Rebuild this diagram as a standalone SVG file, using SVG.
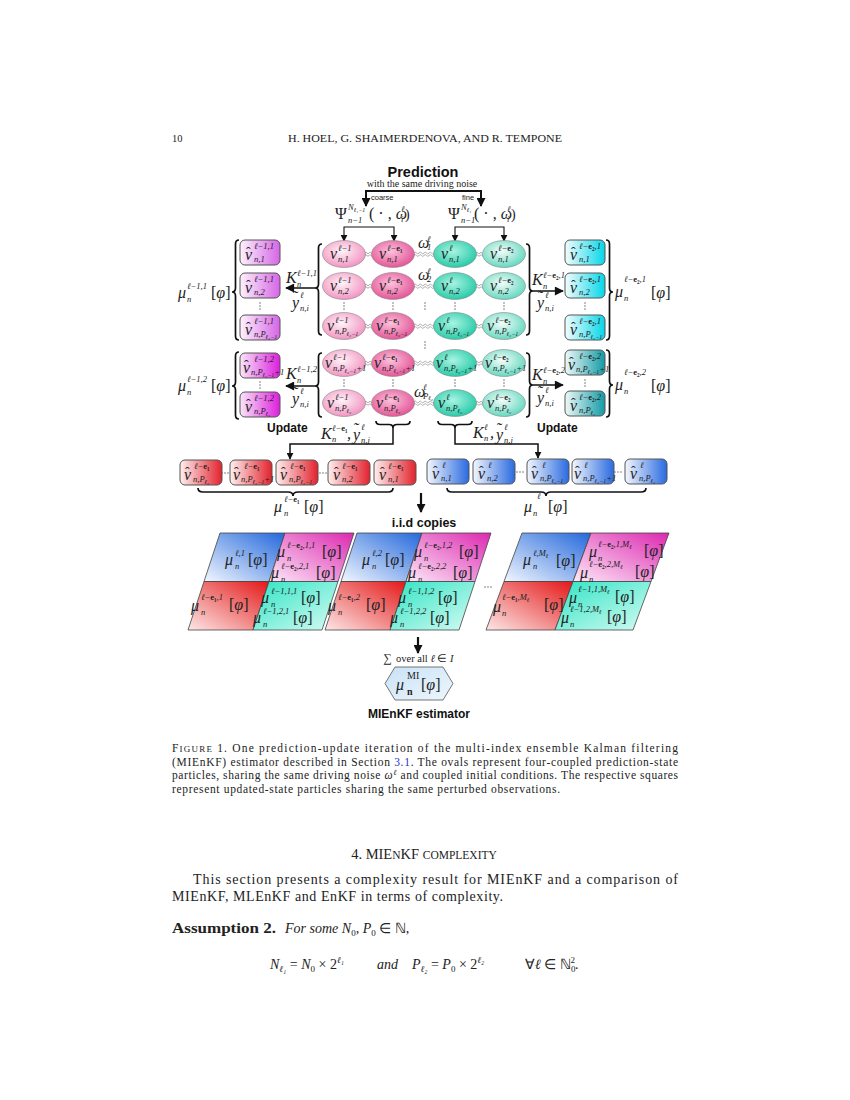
<svg xmlns="http://www.w3.org/2000/svg" width="850" height="1100" viewBox="0 0 850 1100">
<style>
.v{font-family:"Liberation Serif",serif;font-style:italic;font-size:16px;fill:#222}
.s{font-family:"Liberation Serif",serif;font-style:italic;font-size:8.5px;fill:#222}
.t{font-size:6px}
.b{font-weight:bold;font-style:normal}
.u{font-style:normal}
.rm{font-family:"Liberation Serif",serif;fill:#222}
.sans{font-family:"Liberation Sans",Arial,sans-serif;font-weight:bold;fill:#111}
.bx{stroke:#555;stroke-width:1}
.ov{stroke:#888;stroke-width:0.6}
.br{fill:none;stroke:#111;stroke-width:1.7}
.ln{fill:none;stroke:#111;stroke-width:1.5}
.pg{stroke:#444;stroke-width:0.8}
.h{font-family:"Liberation Serif",serif;font-size:14px;fill:#222}
</style>
<defs>
<marker id="ah" viewBox="0 0 10 10" refX="9" refY="5" markerWidth="7" markerHeight="7" markerUnits="userSpaceOnUse" orient="auto"><path d="M0,0 L10,5 L0,10 z" fill="#111"/></marker>
<marker id="ahb" viewBox="0 0 10 10" refX="9" refY="5" markerWidth="10" markerHeight="9" markerUnits="userSpaceOnUse" orient="auto"><path d="M0,0 L10,5 L0,10 z" fill="#111"/></marker>
<radialGradient id="go1" cx="0.45" cy="0.4" r="0.65"><stop offset="0" stop-color="#fff3f8"/><stop offset="1" stop-color="#f08dbd"/></radialGradient>
<radialGradient id="go2" cx="0.45" cy="0.4" r="0.65"><stop offset="0" stop-color="#fbc2dc"/><stop offset="1" stop-color="#e24d92"/></radialGradient>
<radialGradient id="go3" cx="0.45" cy="0.4" r="0.65"><stop offset="0" stop-color="#a8f4e2"/><stop offset="1" stop-color="#1fc7a4"/></radialGradient>
<radialGradient id="go4" cx="0.45" cy="0.4" r="0.65"><stop offset="0" stop-color="#f4fdfa"/><stop offset="1" stop-color="#5ad5bb"/></radialGradient>
<linearGradient id="gm1"><stop offset="0" stop-color="#fdf2fd"/><stop offset="1" stop-color="#d665e6"/></linearGradient>
<linearGradient id="gm2"><stop offset="0" stop-color="#f9e6f9"/><stop offset="1" stop-color="#dd1fdc"/></linearGradient>
<linearGradient id="gc1"><stop offset="0" stop-color="#f2fdfe"/><stop offset="1" stop-color="#05d6e8"/></linearGradient>
<linearGradient id="gc2"><stop offset="0" stop-color="#eef9f9"/><stop offset="1" stop-color="#139aa5"/></linearGradient>
<linearGradient id="gr"><stop offset="0" stop-color="#fff0f0"/><stop offset="1" stop-color="#e2222d"/></linearGradient>
<linearGradient id="gb"><stop offset="0" stop-color="#f3f7fe"/><stop offset="1" stop-color="#2a6ae0"/></linearGradient>
<linearGradient id="pb" x1="0" y1="1" x2="1" y2="0"><stop offset="0" stop-color="#f2f7fe"/><stop offset="1" stop-color="#2468dc"/></linearGradient>
<linearGradient id="pp" x1="0" y1="1" x2="1" y2="0"><stop offset="0" stop-color="#fde9f8"/><stop offset="1" stop-color="#dd28b0"/></linearGradient>
<linearGradient id="pr" x1="0" y1="1" x2="1" y2="0"><stop offset="0" stop-color="#fde7e7"/><stop offset="1" stop-color="#e41818"/></linearGradient>
<linearGradient id="pt" x1="0" y1="0" x2="1" y2="1"><stop offset="0" stop-color="#2ee4c4"/><stop offset="1" stop-color="#d6fbf3"/></linearGradient>
<linearGradient id="gh" x1="0" y1="0" x2="1" y2="1"><stop offset="0" stop-color="#c8e2f6"/><stop offset="1" stop-color="#eef6fc"/></linearGradient>
<path id="wl" d="M0,0 q1.25,-1.8 2.5,0 t2.5,0 t2.5,0 t2.5,0 t2.5,0 t2.5,0 t2.5,0 t2.5,0" fill="none" stroke="#999" stroke-width="0.8"/>
<path id="ws" d="M0,0 q1,-1.5 2,0 t2,0 t2,0 t2,0" fill="none" stroke="#999" stroke-width="0.8"/>
<g id="vd" fill="#555"><circle cx="0" cy="-3" r="0.7"/><circle cx="0" cy="0" r="0.7"/><circle cx="0" cy="3" r="0.7"/></g>
<g id="hd" fill="#555"><circle cx="-3" cy="0" r="0.7"/><circle cx="0" cy="0" r="0.7"/><circle cx="3" cy="0" r="0.7"/></g>
</defs>
<rect width="850" height="1100" fill="#fff"/>

<g id="page-header" class="rm">
<text x="172" y="142" font-size="10.5">10</text>
<text x="288" y="142" font-size="10.5" textLength="274" lengthAdjust="spacingAndGlyphs">H. HOEL, G. SHAIMERDENOVA, AND R. TEMPONE</text>
</g>

<g id="prediction">
<text class="sans" x="423" y="177" font-size="14.5" text-anchor="middle">Prediction</text>
<text class="rm" x="422" y="187" font-size="10" text-anchor="middle">with the same driving noise</text>
<text x="371" y="200" font-family="Liberation Sans,sans-serif" font-size="7.5" fill="#222">coarse</text>
<text x="462" y="200" font-family="Liberation Sans,sans-serif" font-size="7.5" fill="#222">fine</text>
</g>
<g id="psi-coarse">
<text class="rm" x="335" y="219" font-size="16">Ψ</text>
<text class="s" x="348" y="210">N<tspan class="t" dy="1.5">ℓ₁−1</tspan></text>
<text class="s" x="348" y="223">n−1</text>
<text class="v" x="369" y="219" font-size="14"><tspan class="u">( · ,</tspan> ω</text>
<text class="s" x="401" y="212">ℓ</text><text class="s" x="401" y="222">i</text>
<text class="rm" x="405" y="219" font-size="14">)</text>
</g>
<g id="psi-fine">
<text class="rm" x="448" y="219" font-size="16">Ψ</text>
<text class="s" x="461" y="210">N<tspan class="t" dy="1.5">ℓ₁</tspan></text>
<text class="s" x="461" y="223">n−1</text>
<text class="v" x="474" y="219" font-size="14"><tspan class="u">( · ,</tspan> ω</text>
<text class="s" x="507" y="212">ℓ</text><text class="s" x="507" y="222">i</text>
<text class="rm" x="511" y="219" font-size="14">)</text>
</g>

<g id="connectors">
<path d="M423,191 H366 V206" fill="none" stroke="#111" stroke-width="2" marker-end="url(#ahb)"/>
<path d="M423,191 H481 V206" fill="none" stroke="#111" stroke-width="2" marker-end="url(#ahb)"/>
<path d="M369,227 H344 V241" fill="none" stroke="#111" stroke-width="1.1" marker-end="url(#ah)"/>
<path d="M369,227 H394 V241" fill="none" stroke="#111" stroke-width="1.1" marker-end="url(#ah)"/>
<path d="M480,227 H455 V241" fill="none" stroke="#111" stroke-width="1.1" marker-end="url(#ah)"/>
<path d="M480,227 H504 V241" fill="none" stroke="#111" stroke-width="1.1" marker-end="url(#ah)"/>
<path class="br" d="M239,240 Q235.5,240 235.5,244 L235.5,288 Q235.5,292 232,292 Q235.5,292 235.5,296 L235.5,336 Q235.5,340 239,340"/>
<path class="br" d="M239,352 Q235.5,352 235.5,356 L235.5,382 Q235.5,386 232,386 Q235.5,386 235.5,390 L235.5,415 Q235.5,419 239,419"/>
<path class="br" d="M322,244 Q318.5,244 318.5,248 L318.5,284 Q318.5,288 315,288 Q318.5,288 318.5,292 L318.5,331 Q318.5,335 322,335"/>
<path class="br" d="M322,353 Q318.5,353 318.5,357 L318.5,382 Q318.5,386 315,386 Q318.5,386 318.5,390 L318.5,413 Q318.5,417 322,417"/>
<path class="br" d="M526,244 Q529.5,244 529.5,248 L529.5,287 Q529.5,291 533,291 Q529.5,291 529.5,295 L529.5,331 Q529.5,335 526,335"/>
<path class="br" d="M526,353 Q529.5,353 529.5,357 L529.5,381 Q529.5,385 533,385 Q529.5,385 529.5,389 L529.5,413 Q529.5,417 526,417"/>
<path class="br" d="M606,240 Q609.5,240 609.5,244 L609.5,288 Q609.5,292 613,292 Q609.5,292 609.5,296 L609.5,336 Q609.5,340 606,340"/>
<path class="br" d="M606,350 Q609.5,350 609.5,354 L609.5,381 Q609.5,385 613,385 Q609.5,385 609.5,389 L609.5,413 Q609.5,417 606,417"/>
<path class="br" d="M376,421 Q376,424.5 380,424.5 L389,424.5 Q393,424.5 393,428 Q393,424.5 397,424.5 L406,424.5 Q410,424.5 410,421"/>
<path class="br" d="M438,421 Q438,424.5 442,424.5 L451,424.5 Q455,424.5 455,428 Q455,424.5 459,424.5 L468,424.5 Q472,424.5 472,421"/>
<path class="br" d="M198,488 Q198,492 203,492 L288,492 Q293,492 293,496 Q293,492 298,492 L388,492 Q393,492 393,488"/>
<path class="br" d="M447,488 Q447,492 452,492 L541,492 Q546,492 546,496 Q546,492 551,492 L641,492 Q646,492 646,488"/>
<path class="ln" d="M315,288 H286" marker-end="url(#ahb)"/>
<path class="ln" d="M315,386 H286" marker-end="url(#ahb)"/>
<path class="ln" d="M533,291 H563" marker-end="url(#ahb)"/>
<path class="ln" d="M533,385 H563" marker-end="url(#ahb)"/>
<path class="ln" d="M393,428 V444 H290 V459" marker-end="url(#ah)"/>
<path class="ln" d="M455,428 V444 H538 V458" marker-end="url(#ah)"/>
<path d="M421,493 V512" stroke="#111" stroke-width="2.2" marker-end="url(#ahb)"/>
<path d="M418,637 V653" stroke="#111" stroke-width="2.2" marker-end="url(#ahb)"/>
<use href="#ws" x="365" y="253"/><use href="#ws" x="365" y="255.5"/>
<use href="#ws" x="365" y="285"/><use href="#ws" x="365" y="287.5"/>
<use href="#ws" x="365" y="325"/><use href="#ws" x="365" y="327.5"/>
<use href="#ws" x="365" y="362"/><use href="#ws" x="365" y="364.5"/>
<use href="#ws" x="365" y="402"/><use href="#ws" x="365" y="404.5"/>
<use href="#wl" x="414" y="253"/><use href="#wl" x="414" y="255.5"/>
<use href="#wl" x="414" y="285"/><use href="#wl" x="414" y="287.5"/>
<use href="#wl" x="414" y="325"/><use href="#wl" x="414" y="327.5"/>
<use href="#wl" x="414" y="362"/><use href="#wl" x="414" y="364.5"/>
<use href="#wl" x="414" y="402"/><use href="#wl" x="414" y="404.5"/>
<use href="#ws" x="476" y="253"/><use href="#ws" x="476" y="255.5"/>
<use href="#ws" x="476" y="285"/><use href="#ws" x="476" y="287.5"/>
<use href="#ws" x="476" y="325"/><use href="#ws" x="476" y="327.5"/>
<use href="#ws" x="476" y="362"/><use href="#ws" x="476" y="364.5"/>
<use href="#ws" x="476" y="402"/><use href="#ws" x="476" y="404.5"/>
</g>

<g id="connector-labels">
<text class="v" x="418" y="248" font-size="12">ω</text><text class="s" x="427" y="242">ℓ</text><text class="s" x="427" y="250" font-size="7">1</text>
<text class="v" x="418" y="280" font-size="12">ω</text><text class="s" x="427" y="274">ℓ</text><text class="s" x="427" y="282" font-size="7">2</text>
<text class="v" x="414" y="397" font-size="12">ω</text><text class="s" x="423" y="390">ℓ</text><text class="s" x="423" y="399" font-size="7">P<tspan class="t" dy="1">ℓ₂</tspan></text>
<text class="v" x="286" y="283" font-size="14">K</text><text class="s" x="297" y="276">ℓ−1,1</text><text class="s" x="297" y="287">n</text>
<text class="v" x="292" y="302" font-size="14">˜</text><text class="v" x="292" y="308" font-size="14">y</text><text class="s" x="300" y="298">ℓ</text><text class="s" x="300" y="311">n,i</text>
<text class="v" x="286" y="379" font-size="14">K</text><text class="s" x="297" y="372">ℓ−1,2</text><text class="s" x="297" y="383">n</text>
<text class="v" x="292" y="398" font-size="14">˜</text><text class="v" x="292" y="404" font-size="14">y</text><text class="s" x="300" y="394">ℓ</text><text class="s" x="300" y="407">n,i</text>
<text class="v" x="532" y="285" font-size="14">K</text><text class="s" x="543" y="278">ℓ−<tspan class="b">e₂</tspan>,1</text><text class="s" x="543" y="289">n</text>
<text class="v" x="537" y="302" font-size="14">˜</text><text class="v" x="537" y="308" font-size="14">y</text><text class="s" x="545" y="298">ℓ</text><text class="s" x="545" y="311">n,i</text>
<text class="v" x="532" y="380" font-size="14">K</text><text class="s" x="543" y="373">ℓ−<tspan class="b">e₂</tspan>,2</text><text class="s" x="543" y="384">n</text>
<text class="v" x="537" y="397" font-size="14">˜</text><text class="v" x="537" y="403" font-size="14">y</text><text class="s" x="545" y="393">ℓ</text><text class="s" x="545" y="406">n,i</text>
<text class="v" x="321" y="439" font-size="14">K</text><text class="s" x="332" y="431">ℓ−<tspan class="b">e₁</tspan></text><text class="s" x="332" y="442">n</text><text class="v" x="347" y="439" font-size="14">,</text>
<text class="v" x="353" y="434" font-size="14">˜</text><text class="v" x="353" y="440" font-size="14">y</text><text class="s" x="361" y="430">ℓ</text><text class="s" x="361" y="443">n,j</text>
<text class="v" x="473" y="438" font-size="14">K</text><text class="s" x="484" y="430">ℓ</text><text class="s" x="484" y="441">n</text><text class="v" x="490" y="438" font-size="14">,</text>
<text class="v" x="496" y="434" font-size="14">˜</text><text class="v" x="496" y="440" font-size="14">y</text><text class="s" x="504" y="430">ℓ</text><text class="s" x="504" y="443">n,j</text>
<text class="sans" x="267" y="432" font-size="12">Update</text>
<text class="sans" x="537" y="432" font-size="12">Update</text>
<text class="sans" x="424" y="527" font-size="12.5" text-anchor="middle">i.i.d copies</text>
<text class="rm" x="383" y="662" font-size="12">∑</text>
<text class="rm" x="396" y="662" font-size="10.5">over all <tspan font-style="italic">ℓ</tspan> ∈ <tspan font-style="italic">I</tspan></text>
</g>

<g id="ovals-c1">
<g id="ov11"><ellipse class="ov" cx="344" cy="254" rx="21.5" ry="13.5" fill="url(#go1)"/><text class="v" x="330" y="259">v</text><text class="s" x="338" y="251">ℓ−1</text><text class="s" x="338" y="262">n,1</text></g>
<g id="ov12"><ellipse class="ov" cx="344" cy="286" rx="21.5" ry="13.5" fill="url(#go1)"/><text class="v" x="330" y="291">v</text><text class="s" x="338" y="283">ℓ−1</text><text class="s" x="338" y="294">n,2</text></g>
<g id="ov13"><ellipse class="ov" cx="344" cy="326" rx="21.5" ry="13.5" fill="url(#go1)"/><text class="v" x="327" y="331">v</text><text class="s" x="335" y="323">ℓ−1</text><text class="s" x="335" y="334">n,P<tspan class="t" dy="1.5">ℓ₂−1</tspan></text></g>
<g id="ov14"><ellipse class="ov" cx="344" cy="363" rx="21.5" ry="13.5" fill="url(#go1)"/><text class="v" x="325" y="368">v</text><text class="s" x="333" y="360">ℓ−1</text><text class="s" x="333" y="371">n,P<tspan class="t" dy="1.5">ℓ₂−1</tspan><tspan dy="-1.5">+1</tspan></text></g>
<g id="ov15"><ellipse class="ov" cx="344" cy="403" rx="21.5" ry="13.5" fill="url(#go1)"/><text class="v" x="327" y="408">v</text><text class="s" x="335" y="400">ℓ−1</text><text class="s" x="335" y="411">n,P<tspan class="t" dy="1.5">ℓ₂</tspan></text></g>
</g>
<g id="ovals-c2">
<g id="ov21"><ellipse class="ov" cx="393" cy="254" rx="21.5" ry="13.5" fill="url(#go2)"/><text class="v" x="379" y="259">v</text><text class="s" x="387" y="251">ℓ−<tspan class="b">e₁</tspan></text><text class="s" x="387" y="262">n,1</text></g>
<g id="ov22"><ellipse class="ov" cx="393" cy="286" rx="21.5" ry="13.5" fill="url(#go2)"/><text class="v" x="379" y="291">v</text><text class="s" x="387" y="283">ℓ−<tspan class="b">e₁</tspan></text><text class="s" x="387" y="294">n,2</text></g>
<g id="ov23"><ellipse class="ov" cx="393" cy="326" rx="21.5" ry="13.5" fill="url(#go2)"/><text class="v" x="376" y="331">v</text><text class="s" x="384" y="323">ℓ−<tspan class="b">e₁</tspan></text><text class="s" x="384" y="334">n,P<tspan class="t" dy="1.5">ℓ₂−1</tspan></text></g>
<g id="ov24"><ellipse class="ov" cx="393" cy="363" rx="21.5" ry="13.5" fill="url(#go2)"/><text class="v" x="374" y="368">v</text><text class="s" x="382" y="360">ℓ−<tspan class="b">e₁</tspan></text><text class="s" x="382" y="371">n,P<tspan class="t" dy="1.5">ℓ₂−1</tspan><tspan dy="-1.5">+1</tspan></text></g>
<g id="ov25"><ellipse class="ov" cx="393" cy="403" rx="21.5" ry="13.5" fill="url(#go2)"/><text class="v" x="376" y="408">v</text><text class="s" x="384" y="400">ℓ−<tspan class="b">e₁</tspan></text><text class="s" x="384" y="411">n,P<tspan class="t" dy="1.5">ℓ₂</tspan></text></g>
</g>
<g id="ovals-c3">
<g id="ov31"><ellipse class="ov" cx="455" cy="254" rx="21.5" ry="13.5" fill="url(#go3)"/><text class="v" x="441" y="259">v</text><text class="s" x="449" y="251">ℓ</text><text class="s" x="449" y="262">n,1</text></g>
<g id="ov32"><ellipse class="ov" cx="455" cy="286" rx="21.5" ry="13.5" fill="url(#go3)"/><text class="v" x="441" y="291">v</text><text class="s" x="449" y="283">ℓ</text><text class="s" x="449" y="294">n,2</text></g>
<g id="ov33"><ellipse class="ov" cx="455" cy="326" rx="21.5" ry="13.5" fill="url(#go3)"/><text class="v" x="438" y="331">v</text><text class="s" x="446" y="323">ℓ</text><text class="s" x="446" y="334">n,P<tspan class="t" dy="1.5">ℓ₂−1</tspan></text></g>
<g id="ov34"><ellipse class="ov" cx="455" cy="363" rx="21.5" ry="13.5" fill="url(#go3)"/><text class="v" x="436" y="368">v</text><text class="s" x="444" y="360">ℓ</text><text class="s" x="444" y="371">n,P<tspan class="t" dy="1.5">ℓ₂−1</tspan><tspan dy="-1.5">+1</tspan></text></g>
<g id="ov35"><ellipse class="ov" cx="455" cy="403" rx="21.5" ry="13.5" fill="url(#go3)"/><text class="v" x="438" y="408">v</text><text class="s" x="446" y="400">ℓ</text><text class="s" x="446" y="411">n,P<tspan class="t" dy="1.5">ℓ₂</tspan></text></g>
</g>
<g id="ovals-c4">
<g id="ov41"><ellipse class="ov" cx="504" cy="254" rx="21.5" ry="13.5" fill="url(#go4)"/><text class="v" x="490" y="259">v</text><text class="s" x="498" y="251">ℓ−<tspan class="b">e₂</tspan></text><text class="s" x="498" y="262">n,1</text></g>
<g id="ov42"><ellipse class="ov" cx="504" cy="286" rx="21.5" ry="13.5" fill="url(#go4)"/><text class="v" x="490" y="291">v</text><text class="s" x="498" y="283">ℓ−<tspan class="b">e₂</tspan></text><text class="s" x="498" y="294">n,2</text></g>
<g id="ov43"><ellipse class="ov" cx="504" cy="326" rx="21.5" ry="13.5" fill="url(#go4)"/><text class="v" x="487" y="331">v</text><text class="s" x="495" y="323">ℓ−<tspan class="b">e₂</tspan></text><text class="s" x="495" y="334">n,P<tspan class="t" dy="1.5">ℓ₂−1</tspan></text></g>
<g id="ov44"><ellipse class="ov" cx="504" cy="363" rx="21.5" ry="13.5" fill="url(#go4)"/><text class="v" x="485" y="368">v</text><text class="s" x="493" y="360">ℓ−<tspan class="b">e₂</tspan></text><text class="s" x="493" y="371">n,P<tspan class="t" dy="1.5">ℓ₂−1</tspan><tspan dy="-1.5">+1</tspan></text></g>
<g id="ov45"><ellipse class="ov" cx="504" cy="403" rx="21.5" ry="13.5" fill="url(#go4)"/><text class="v" x="487" y="408">v</text><text class="s" x="495" y="400">ℓ−<tspan class="b">e₂</tspan></text><text class="s" x="495" y="411">n,P<tspan class="t" dy="1.5">ℓ₂</tspan></text></g>
</g>
<g id="dots">
<use href="#vd" x="344" y="306"/><use href="#vd" x="393" y="306"/><use href="#vd" x="425" y="306"/><use href="#vd" x="455" y="306"/><use href="#vd" x="504" y="306"/>
<use href="#vd" x="425" y="345"/>
<use href="#vd" x="344" y="383"/><use href="#vd" x="393" y="383"/><use href="#vd" x="455" y="383"/><use href="#vd" x="504" y="383"/>
<use href="#vd" x="260" y="306"/><use href="#vd" x="260" y="385"/><use href="#vd" x="585" y="306"/><use href="#vd" x="585" y="383"/>
<use href="#hd" x="225" y="473"/><use href="#hd" x="323" y="473"/><use href="#hd" x="520" y="472"/><use href="#hd" x="618" y="472"/>
<use href="#hd" x="488" y="587"/>
</g>

<g id="lb1"><rect class="bx" x="240" y="240" width="40" height="25" rx="5" fill="url(#gm1)"/><text class="h" x="246" y="257">ˆ</text><text class="v" x="245" y="260">v</text><text class="s" x="254" y="249">ℓ−1,1</text><text class="s" x="254" y="262">n,1</text></g>
<g id="lb2"><rect class="bx" x="240" y="273" width="40" height="25" rx="5" fill="url(#gm1)"/><text class="h" x="246" y="290">ˆ</text><text class="v" x="245" y="293">v</text><text class="s" x="254" y="282">ℓ−1,1</text><text class="s" x="254" y="295">n,2</text></g>
<g id="lb3"><rect class="bx" x="240" y="315" width="40" height="25" rx="5" fill="url(#gm1)"/><text class="h" x="246" y="332">ˆ</text><text class="v" x="245" y="335">v</text><text class="s" x="254" y="324">ℓ−1,1</text><text class="s" x="254" y="337">n,P<tspan class="t" dy="1.5">ℓ₂−1</tspan></text></g>
<g id="lb4"><rect class="bx" x="240" y="353" width="40" height="25" rx="5" fill="url(#gm2)"/><text class="h" x="244" y="370">ˆ</text><text class="v" x="243" y="373">v</text><text class="s" x="254" y="362">ℓ−1,2</text><text class="s" x="251" y="375">n,P<tspan class="t" dy="1.5">ℓ₂−1</tspan><tspan dy="-1.5">+1</tspan></text></g>
<g id="lb5"><rect class="bx" x="240" y="392" width="40" height="25" rx="5" fill="url(#gm2)"/><text class="h" x="246" y="409">ˆ</text><text class="v" x="245" y="412">v</text><text class="s" x="254" y="401">ℓ−1,2</text><text class="s" x="254" y="414">n,P<tspan class="t" dy="1.5">ℓ₂</tspan></text></g>
<g id="mu-l1"><text class="v" x="178" y="298">μ</text><text class="s" x="187" y="289" font-size="9.5">ℓ−1,1</text><text class="s" x="187" y="302" font-size="9.5">n</text><text class="v" x="211" y="298"><tspan class="u">[</tspan>φ<tspan class="u">]</tspan></text></g>
<g id="mu-l2"><text class="v" x="178" y="391">μ</text><text class="s" x="187" y="382" font-size="9.5">ℓ−1,2</text><text class="s" x="187" y="395" font-size="9.5">n</text><text class="v" x="211" y="391"><tspan class="u">[</tspan>φ<tspan class="u">]</tspan></text></g>

<g id="rb1"><rect class="bx" x="565" y="240" width="40" height="25" rx="5" fill="url(#gc1)"/><text class="h" x="571" y="257">ˆ</text><text class="v" x="570" y="260">v</text><text class="s" x="579" y="249">ℓ−<tspan class="b">e₂</tspan>,1</text><text class="s" x="579" y="262">n,1</text></g>
<g id="rb2"><rect class="bx" x="565" y="273" width="40" height="25" rx="5" fill="url(#gc1)"/><text class="h" x="571" y="290">ˆ</text><text class="v" x="570" y="293">v</text><text class="s" x="579" y="282">ℓ−<tspan class="b">e₂</tspan>,1</text><text class="s" x="579" y="295">n,2</text></g>
<g id="rb3"><rect class="bx" x="565" y="315" width="40" height="25" rx="5" fill="url(#gc1)"/><text class="h" x="571" y="332">ˆ</text><text class="v" x="570" y="335">v</text><text class="s" x="579" y="324">ℓ−<tspan class="b">e₂</tspan>,1</text><text class="s" x="579" y="337">n,P<tspan class="t" dy="1.5">ℓ₂−1</tspan></text></g>
<g id="rb4"><rect class="bx" x="565" y="350" width="40" height="25" rx="5" fill="url(#gc2)"/><text class="h" x="569" y="367">ˆ</text><text class="v" x="568" y="370">v</text><text class="s" x="579" y="359">ℓ−<tspan class="b">e₂</tspan>,2</text><text class="s" x="576" y="372">n,P<tspan class="t" dy="1.5">ℓ₂−1</tspan><tspan dy="-1.5">+1</tspan></text></g>
<g id="rb5"><rect class="bx" x="565" y="391" width="40" height="25" rx="5" fill="url(#gc2)"/><text class="h" x="571" y="408">ˆ</text><text class="v" x="570" y="411">v</text><text class="s" x="579" y="400">ℓ−<tspan class="b">e₂</tspan>,2</text><text class="s" x="579" y="413">n,P<tspan class="t" dy="1.5">ℓ₂</tspan></text></g>
<g id="mu-r1"><text class="v" x="615" y="297">μ</text><text class="s" x="624" y="282" font-size="9.5">ℓ−<tspan class="b">e₂</tspan>,1</text><text class="s" x="624" y="301" font-size="9.5">n</text><text class="v" x="651" y="298"><tspan class="u">[</tspan>φ<tspan class="u">]</tspan></text></g>
<g id="mu-r2"><text class="v" x="615" y="390">μ</text><text class="s" x="624" y="375" font-size="9.5">ℓ−<tspan class="b">e₂</tspan>,2</text><text class="s" x="624" y="394" font-size="9.5">n</text><text class="v" x="651" y="391"><tspan class="u">[</tspan>φ<tspan class="u">]</tspan></text></g>

<g id="red1"><rect class="bx" x="180" y="460" width="42" height="25" rx="5" fill="url(#gr)"/><text class="h" x="185" y="477">ˆ</text><text class="v" x="184" y="480">v</text><text class="s" x="194" y="469">ℓ−<tspan class="b">e₁</tspan></text><text class="s" x="193" y="482">n,P<tspan class="t" dy="1.5">ℓ₂</tspan></text></g>
<g id="red2"><rect class="bx" x="230" y="460" width="42" height="25" rx="5" fill="url(#gr)"/><text class="h" x="234" y="477">ˆ</text><text class="v" x="233" y="480">v</text><text class="s" x="244" y="469">ℓ−<tspan class="b">e₁</tspan></text><text class="s" x="241" y="482">n,P<tspan class="t" dy="1.5">ℓ₂−1</tspan><tspan dy="-1.5">+1</tspan></text></g>
<g id="red3"><rect class="bx" x="276" y="460" width="42" height="25" rx="5" fill="url(#gr)"/><text class="h" x="281" y="477">ˆ</text><text class="v" x="280" y="480">v</text><text class="s" x="290" y="469">ℓ−<tspan class="b">e₁</tspan></text><text class="s" x="289" y="482">n,P<tspan class="t" dy="1.5">ℓ₂−1</tspan></text></g>
<g id="red4"><rect class="bx" x="328" y="460" width="42" height="25" rx="5" fill="url(#gr)"/><text class="h" x="334" y="477">ˆ</text><text class="v" x="333" y="480">v</text><text class="s" x="342" y="469">ℓ−<tspan class="b">e₁</tspan></text><text class="s" x="342" y="482">n,2</text></g>
<g id="red5"><rect class="bx" x="374" y="460" width="42" height="25" rx="5" fill="url(#gr)"/><text class="h" x="380" y="477">ˆ</text><text class="v" x="379" y="480">v</text><text class="s" x="388" y="469">ℓ−<tspan class="b">e₁</tspan></text><text class="s" x="388" y="482">n,1</text></g>
<g id="mu-red"><text class="v" x="274" y="512">μ</text><text class="s" x="284" y="502" font-size="9.5">ℓ−<tspan class="b">e₁</tspan></text><text class="s" x="284" y="516" font-size="9.5">n</text><text class="v" x="304" y="512"><tspan class="u">[</tspan>φ<tspan class="u">]</tspan></text></g>

<g id="blue1"><rect class="bx" x="427" y="459" width="42" height="25" rx="5" fill="url(#gb)"/><text class="h" x="433" y="476">ˆ</text><text class="v" x="432" y="479">v</text><text class="s" x="442" y="468">ℓ</text><text class="s" x="441" y="481">n,1</text></g>
<g id="blue2"><rect class="bx" x="473" y="459" width="42" height="25" rx="5" fill="url(#gb)"/><text class="h" x="479" y="476">ˆ</text><text class="v" x="478" y="479">v</text><text class="s" x="488" y="468">ℓ</text><text class="s" x="487" y="481">n,2</text></g>
<g id="blue3"><rect class="bx" x="527" y="459" width="42" height="25" rx="5" fill="url(#gb)"/><text class="h" x="532" y="476">ˆ</text><text class="v" x="531" y="479">v</text><text class="s" x="542" y="468">ℓ</text><text class="s" x="540" y="481">n,P<tspan class="t" dy="1.5">ℓ₂−1</tspan></text></g>
<g id="blue4"><rect class="bx" x="572" y="459" width="42" height="25" rx="5" fill="url(#gb)"/><text class="h" x="575" y="476">ˆ</text><text class="v" x="574" y="479">v</text><text class="s" x="584" y="468">ℓ</text><text class="s" x="583" y="481">n,P<tspan class="t" dy="1.5">ℓ₂−1</tspan><tspan dy="-1.5">+1</tspan></text></g>
<g id="blue5"><rect class="bx" x="625" y="459" width="42" height="25" rx="5" fill="url(#gb)"/><text class="h" x="631" y="476">ˆ</text><text class="v" x="630" y="479">v</text><text class="s" x="640" y="468">ℓ</text><text class="s" x="639" y="481">n,P<tspan class="t" dy="1.5">ℓ₂</tspan></text></g>
<g id="mu-blue"><text class="v" x="524" y="512">μ</text><text class="s" x="537" y="499" font-size="9.5">ℓ</text><text class="s" x="533" y="516" font-size="9.5">n</text><text class="v" x="548" y="512"><tspan class="u">[</tspan>φ<tspan class="u">]</tspan></text></g>

<g id="copy1">
<polygon class="pg" points="220,533 285,533 269,581.5 204,581.5" fill="url(#pb)"/>
<polygon class="pg" points="285,533 354,533 338,581.5 269,581.5" fill="url(#pp)"/>
<polygon class="pg" points="204,581.5 269,581.5 253,630 188,630" fill="url(#pr)"/>
<polygon class="pg" points="269,581.5 338,581.5 322,630 253,630" fill="url(#pt)"/>
<text class="v" x="225" y="565">μ</text><text class="s" x="235" y="556" font-size="9.5">ℓ,1</text><text class="s" x="235" y="569" font-size="9.5">n</text><text class="v" x="248" y="565"><tspan class="u">[</tspan>φ<tspan class="u">]</tspan></text>
<text class="v" x="277" y="557">μ</text><text class="s" x="287" y="548" font-size="9.5">ℓ−<tspan class="b">e₂</tspan>,1,1</text><text class="s" x="287" y="561" font-size="9.5">n</text><text class="v" x="322" y="557"><tspan class="u">[</tspan>φ<tspan class="u">]</tspan></text>
<text class="v" x="271" y="578">μ</text><text class="s" x="281" y="569" font-size="9.5">ℓ−<tspan class="b">e₂</tspan>,2,1</text><text class="s" x="281" y="582" font-size="9.5">n</text><text class="v" x="316" y="578"><tspan class="u">[</tspan>φ<tspan class="u">]</tspan></text>
<text class="v" x="191" y="611">μ</text><text class="s" x="201" y="600" font-size="9.5">ℓ−<tspan class="b">e₁</tspan>,1</text><text class="s" x="201" y="615" font-size="9.5">n</text><text class="v" x="229" y="610"><tspan class="u">[</tspan>φ<tspan class="u">]</tspan></text>
<text class="v" x="261" y="603">μ</text><text class="s" x="271" y="594" font-size="9.5">ℓ−1,1,1</text><text class="s" x="271" y="607" font-size="9.5">n</text><text class="v" x="301" y="603"><tspan class="u">[</tspan>φ<tspan class="u">]</tspan></text>
<text class="v" x="253" y="623">μ</text><text class="s" x="263" y="614" font-size="9.5">ℓ−1,2,1</text><text class="s" x="263" y="627" font-size="9.5">n</text><text class="v" x="293" y="623"><tspan class="u">[</tspan>φ<tspan class="u">]</tspan></text>
</g>
<g id="copy2">
<polygon class="pg" points="357,533 422,533 406,581.5 341,581.5" fill="url(#pb)"/>
<polygon class="pg" points="422,533 491,533 475,581.5 406,581.5" fill="url(#pp)"/>
<polygon class="pg" points="341,581.5 406,581.5 390,630 325,630" fill="url(#pr)"/>
<polygon class="pg" points="406,581.5 475,581.5 459,630 390,630" fill="url(#pt)"/>
<text class="v" x="362" y="565">μ</text><text class="s" x="372" y="556" font-size="9.5">ℓ,2</text><text class="s" x="372" y="569" font-size="9.5">n</text><text class="v" x="385" y="565"><tspan class="u">[</tspan>φ<tspan class="u">]</tspan></text>
<text class="v" x="414" y="557">μ</text><text class="s" x="424" y="548" font-size="9.5">ℓ−<tspan class="b">e₂</tspan>,1,2</text><text class="s" x="424" y="561" font-size="9.5">n</text><text class="v" x="459" y="557"><tspan class="u">[</tspan>φ<tspan class="u">]</tspan></text>
<text class="v" x="408" y="578">μ</text><text class="s" x="418" y="569" font-size="9.5">ℓ−<tspan class="b">e₂</tspan>,2,2</text><text class="s" x="418" y="582" font-size="9.5">n</text><text class="v" x="453" y="578"><tspan class="u">[</tspan>φ<tspan class="u">]</tspan></text>
<text class="v" x="328" y="611">μ</text><text class="s" x="338" y="600" font-size="9.5">ℓ−<tspan class="b">e₁</tspan>,2</text><text class="s" x="338" y="615" font-size="9.5">n</text><text class="v" x="366" y="610"><tspan class="u">[</tspan>φ<tspan class="u">]</tspan></text>
<text class="v" x="398" y="603">μ</text><text class="s" x="408" y="594" font-size="9.5">ℓ−1,1,2</text><text class="s" x="408" y="607" font-size="9.5">n</text><text class="v" x="438" y="603"><tspan class="u">[</tspan>φ<tspan class="u">]</tspan></text>
<text class="v" x="390" y="623">μ</text><text class="s" x="400" y="614" font-size="9.5">ℓ−1,2,2</text><text class="s" x="400" y="627" font-size="9.5">n</text><text class="v" x="430" y="623"><tspan class="u">[</tspan>φ<tspan class="u">]</tspan></text>
</g>
<g id="copy3">
<polygon class="pg" points="522,533 591,533 573,581.5 504,581.5" fill="url(#pb)"/>
<polygon class="pg" points="591,533 669,533 651,581.5 573,581.5" fill="url(#pp)"/>
<polygon class="pg" points="504,581.5 573,581.5 555,630 486,630" fill="url(#pr)"/>
<polygon class="pg" points="573,581.5 651,581.5 633,630 555,630" fill="url(#pt)"/>
<text class="v" x="523" y="565">μ</text><text class="s" x="533" y="556" font-size="9.5">ℓ,M<tspan class="t" dy="1.5">ℓ</tspan></text><text class="s" x="533" y="569" font-size="9.5">n</text><text class="v" x="556" y="566"><tspan class="u">[</tspan>φ<tspan class="u">]</tspan></text>
<text class="v" x="589" y="557">μ</text><text class="s" x="598" y="547" font-size="9.5">ℓ−<tspan class="b">e₂</tspan>,1,M<tspan class="t" dy="1.5">ℓ</tspan></text><text class="s" x="598" y="561" font-size="9.5">n</text><text class="v" x="644" y="556"><tspan class="u">[</tspan>φ<tspan class="u">]</tspan></text>
<text class="v" x="580" y="578">μ</text><text class="s" x="589" y="567" font-size="9.5">ℓ−<tspan class="b">e₂</tspan>,2,M<tspan class="t" dy="1.5">ℓ</tspan></text><text class="s" x="589" y="582" font-size="9.5">n</text><text class="v" x="635" y="577"><tspan class="u">[</tspan>φ<tspan class="u">]</tspan></text>
<text class="v" x="493" y="612">μ</text><text class="s" x="502" y="600" font-size="9.5">ℓ−<tspan class="b">e₁</tspan>,M<tspan class="t" dy="1.5">ℓ</tspan></text><text class="s" x="502" y="616" font-size="9.5">n</text><text class="v" x="544" y="610"><tspan class="u">[</tspan>φ<tspan class="u">]</tspan></text>
<text class="v" x="569" y="603">μ</text><text class="s" x="578" y="592" font-size="9.5">ℓ−1,1,M<tspan class="t" dy="1.5">ℓ</tspan></text><text class="s" x="578" y="607" font-size="9.5">n</text><text class="v" x="615" y="602"><tspan class="u">[</tspan>φ<tspan class="u">]</tspan></text>
<text class="v" x="561" y="623">μ</text><text class="s" x="570" y="612" font-size="9.5">ℓ−1,2,M<tspan class="t" dy="1.5">ℓ</tspan></text><text class="s" x="570" y="627" font-size="9.5">n</text><text class="v" x="607" y="622"><tspan class="u">[</tspan>φ<tspan class="u">]</tspan></text>
</g>

<g id="estimator">
<polygon points="385,683.5 395,667 443,667 453,683.5 443,700 395,700" fill="url(#gh)" stroke="#666" stroke-width="0.9"/>
<text class="v" x="396" y="690" font-size="18">μ</text>
<text class="rm" x="407" y="679" font-size="10">MI</text>
<text class="rm" x="407" y="695" font-size="10" font-weight="bold">n</text>
<text class="v" x="421" y="690" font-size="17"><tspan class="u">[</tspan>φ<tspan class="u">]</tspan></text>
<text class="sans" x="419" y="718" font-size="12" text-anchor="middle">MIEnKF estimator</text>
</g>

<g id="caption" class="rm" font-size="11.5">
<text x="172" y="752" textLength="506" lengthAdjust="spacing"><tspan font-size="11.5">F</tspan><tspan font-size="9">IGURE</tspan> 1. One prediction-update iteration of the multi-index ensemble Kalman filtering</text>
<text x="172" y="765.5" textLength="506" lengthAdjust="spacing">(MIEnKF) estimator described in Section <tspan fill="#2233cc">3.1</tspan>. The ovals represent four-coupled prediction-state</text>
<text x="172" y="779" textLength="506" lengthAdjust="spacing">particles, sharing the same driving noise <tspan font-style="italic">ω</tspan><tspan font-size="8" font-style="italic" font-weight="bold" dy="-4">ℓ</tspan><tspan dy="4"> and coupled initial conditions. The respective squares</tspan></text>
<text x="172" y="793" textLength="388" lengthAdjust="spacing">represent updated-state particles sharing the same perturbed observations.</text>
</g>

<g id="section" class="rm">
<text x="424" y="859" font-size="14.5" text-anchor="middle">4. MIE<tspan font-size="11.5">N</tspan>KF <tspan font-size="11.5">COMPLEXITY</tspan></text>
<text x="193" y="884" font-size="14" textLength="485" lengthAdjust="spacing">This section presents a complexity result for MIEnKF and a comparison of</text>
<text x="172" y="901" font-size="14" textLength="331" lengthAdjust="spacing">MIEnKF, MLEnKF and EnKF in terms of complexity.</text>
<text x="172" y="933" font-size="15" font-weight="bold" textLength="104" lengthAdjust="spacingAndGlyphs">Assumption 2.</text>
<text x="285" y="933" font-size="14" font-style="italic">For some N<tspan font-size="9" dy="3" font-style="normal">0</tspan><tspan dy="-3">, P</tspan><tspan font-size="9" dy="3" font-style="normal">0</tspan><tspan dy="-3" font-style="normal"> ∈ ℕ,</tspan></text>
<text x="270" y="969" font-size="14"><tspan font-style="italic">N</tspan><tspan font-size="9" font-style="italic" dy="3">ℓ₁</tspan><tspan dy="-3"> = </tspan><tspan font-style="italic">N</tspan><tspan font-size="9" dy="3">0</tspan><tspan dy="-3"> × 2</tspan><tspan font-size="9" font-style="italic" dy="-6">ℓ₁</tspan></text>
<text x="377" y="969" font-size="14" font-style="italic">and</text>
<text x="412" y="969" font-size="14"><tspan font-style="italic">P</tspan><tspan font-size="9" font-style="italic" dy="3">ℓ₂</tspan><tspan dy="-3"> = </tspan><tspan font-style="italic">P</tspan><tspan font-size="9" dy="3">0</tspan><tspan dy="-3"> × 2</tspan><tspan font-size="9" font-style="italic" dy="-6">ℓ₂</tspan></text>
<text x="525" y="969" font-size="14">∀<tspan font-weight="bold" font-style="italic">ℓ</tspan> ∈ ℕ<tspan font-size="9" dy="3">0</tspan><tspan font-size="9" dy="-9" dx="-5">2</tspan><tspan dy="6">.</tspan></text>
</g>
</svg>
